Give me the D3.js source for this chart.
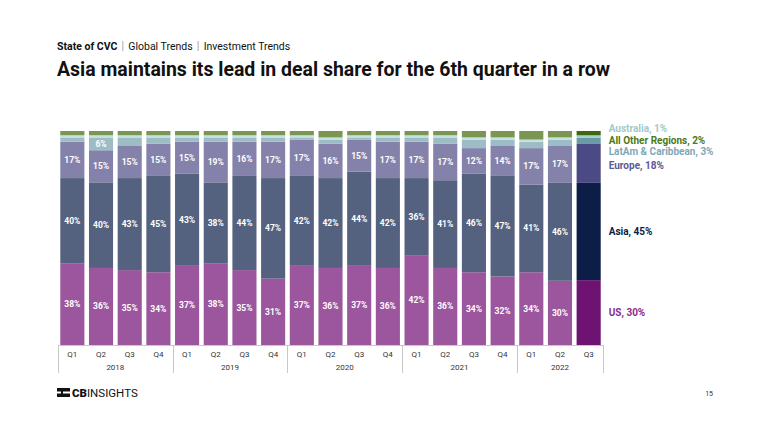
<!DOCTYPE html>
<html><head><meta charset="utf-8">
<script src="https://cdn.jsdelivr.net/npm/d3@7"></script>
<style>
html,body{margin:0;padding:0;background:#fff;}
svg{display:block;font-family:Roboto, "Noto Sans", sans-serif;}
</style></head>
<body><svg id="c" width="770" height="433"></svg>
<script>
const quarters = ["Q1","Q2","Q3","Q4","Q1","Q2","Q3","Q4","Q1","Q2","Q3","Q4","Q1","Q2","Q3","Q4","Q1","Q2","Q3"];
const years = ["2018","2019","2020","2021","2022"];
const yearOf = [0,0,0,0,1,1,1,1,2,2,2,2,3,3,3,3,4,4,4];
const us        = [38,36,35,34,37,38,35,31,37,36,37,36,42,36,34,32,34,30,30];
const asia      = [40,40,43,45,43,38,44,47,42,42,44,42,36,41,46,47,41,46,45];
const europe    = [17,15,15,15,15,19,16,17,17,16,15,17,17,17,12,14,17,17,18];
const latam     = [2,6,4,3,2,2,2,2,1,2,1,2,2,3,4,3,3,3,3];
const australia = [1,1,1,1,1,1,1,1,1,1,1,1,1,1,1,1,1,1,1];
const other     = [2,2,2,2,2,2,2,2,2,3,2,2,2,2,3,3,4,3,2];
const seriesKeys = ["US","Asia","Europe","LatAm","Australia","Other"];
const legendLabels = ["US, 30%","Asia, 45%","Europe, 18%","LatAm & Caribbean, 3%","Australia, 1%","All Other Regions, 2%"];
const labelledSeries = ["US","Asia","Europe"];
const breadcrumb = ["State of CVC","Global Trends","Investment Trends"];

const colors = {US:"#9b569d",Asia:"#55627f",Europe:"#8482aa",LatAm:"#9dbdc6",Australia:"#c6e0df",Other:"#7b9552"};
const hiColors = {US:"#6e1372",Asia:"#0c1e48",Europe:"#4b4a85",LatAm:"#6a9aa6",Australia:"#a9cfd0",Other:"#3d6a0f"};
const textColors = {US:"#8b2d8d",Asia:"#0c1e48",Europe:"#5b5994",LatAm:"#7fa8b6",Australia:"#9fcacc",Other:"#4a7a18"};

const rows = quarters.map((q,i)=>({i,US:us[i],Asia:asia[i],Europe:europe[i],LatAm:latam[i],Australia:australia[i],Other:other[i]}));
const stack = d3.stack().keys(seriesKeys).offset(d3.stackOffsetExpand);
const series = stack(rows);

const svg = d3.select("#c");
const x = d3.scaleBand().domain(d3.range(quarters.length)).range([58,603]).paddingInner(0.16).paddingOuter(0.08);
const y = d3.scaleLinear().domain([0,1]).range([345,131]);

// header breadcrumb: separate texts placed one after another
let cx = 57;
breadcrumb.forEach((t,k)=>{
  const el = svg.append("text").attr("x",cx).attr("y",50).attr("font-size",10.5)
    .attr("font-weight",k===0?"700":"400").attr("fill","#111").text(t);
  cx += el.node().getComputedTextLength();
  if(k<breadcrumb.length-1){
    svg.append("line").attr("x1",cx+5.5).attr("x2",cx+5.5).attr("y1",41).attr("y2",51).attr("stroke","#aaa");
    cx += 11;
  }
});
svg.append("text").attr("x",57).attr("y",76).attr("font-size",20).attr("font-weight","700")
  .attr("fill","#111").attr("textLength",553).attr("lengthAdjust","spacingAndGlyphs")
  .text("Asia maintains its lead in deal share for the 6th quarter in a row");

// bars
const g = svg.append("g");
series.forEach(s=>{
  g.selectAll(null).data(s).enter().append("rect")
    .attr("x",d=>x(d.data.i)).attr("width",x.bandwidth())
    .attr("y",d=>y(d[1])).attr("height",d=>y(d[0])-y(d[1]))
    .attr("fill",d=>d.data.i===quarters.length-1?hiColors[s.key]:colors[s.key]);
});
// inner labels
series.forEach(s=>{
  const data = s.filter(d=>d.data.i<quarters.length-1 && (labelledSeries.includes(s.key) || d.data[s.key]>=5));
  g.selectAll(null).data(data).enter().append("text")
    .attr("x",d=>x(d.data.i)+x.bandwidth()/2).attr("y",d=>(y(d[0])+y(d[1]))/2+3)
    .attr("text-anchor","middle").attr("font-size",8.5).attr("font-weight","700").attr("fill","#fff")
    .text(d=>d.data[s.key]+"%");
});

// axis
const ax = svg.append("g");
ax.append("line").attr("x1",58).attr("x2",603).attr("y1",345.5).attr("y2",345.5).attr("stroke","#c8c8c8");
ax.selectAll(null).data(quarters).enter().append("text")
  .attr("x",(d,i)=>x(i)+x.bandwidth()/2).attr("y",357).attr("text-anchor","middle")
  .attr("font-size",8).attr("fill","#333").text(d=>d);
const yearIdx = years.map((yr,k)=>d3.range(quarters.length).filter(i=>yearOf[i]===k));
const step = x.step();
const bounds = [58].concat(yearIdx.map(ix=>Math.min(603, x(ix[ix.length-1])+x.bandwidth()+(step-x.bandwidth())/2)));
bounds[bounds.length-1]=603;
ax.selectAll(null).data(bounds).enter().append("line")
  .attr("x1",d=>Math.round(d)+0.5).attr("x2",d=>Math.round(d)+0.5).attr("y1",345).attr("y2",373)
  .attr("stroke","#c8c8c8");
ax.selectAll(null).data(years).enter().append("text")
  .attr("x",(d,k)=>(bounds[k]+bounds[k+1])/2).attr("y",370).attr("text-anchor","middle")
  .attr("font-size",8).attr("fill","#333").text(d=>d);

// right-side labels
const last = quarters.length-1;
const labelY = {};
series.forEach(s=>{ labelY[s.key]=(y(s[last][0])+y(s[last][1]))/2; });
labelY.Europe = 165; labelY.LatAm = 151; labelY.Other = 140; labelY.Australia = 128;
const lx = x(last)+x.bandwidth()+8;
seriesKeys.forEach((k,j)=>{
  svg.append("text").attr("x",lx).attr("y",labelY[k]+3.5).attr("font-size",10).attr("font-weight","700")
    .attr("fill",textColors[k]).text(legendLabels[j]);
});

// footer
const logo = svg.append("g").attr("transform","translate(57,388)");
logo.append("rect").attr("x",0).attr("y",0).attr("width",13).attr("height",9).attr("fill","#111");
logo.append("rect").attr("x",6).attr("y",3.5).attr("width",7).attr("height",2).attr("fill","#fff");
logo.append("rect").attr("x",0).attr("y",3.5).attr("width",4).attr("height",2).attr("fill","#fff");
const lt = logo.append("text").attr("x",15).attr("y",9).attr("font-size",11.5).attr("fill","#111");
lt.append("tspan").attr("font-weight","900").text("CB");
lt.append("tspan").attr("font-weight","400").text("INSIGHTS");
svg.append("text").attr("x",713).attr("y",396).attr("text-anchor","end").attr("font-size",7).attr("fill","#333").text("15");
</script></body></html>
